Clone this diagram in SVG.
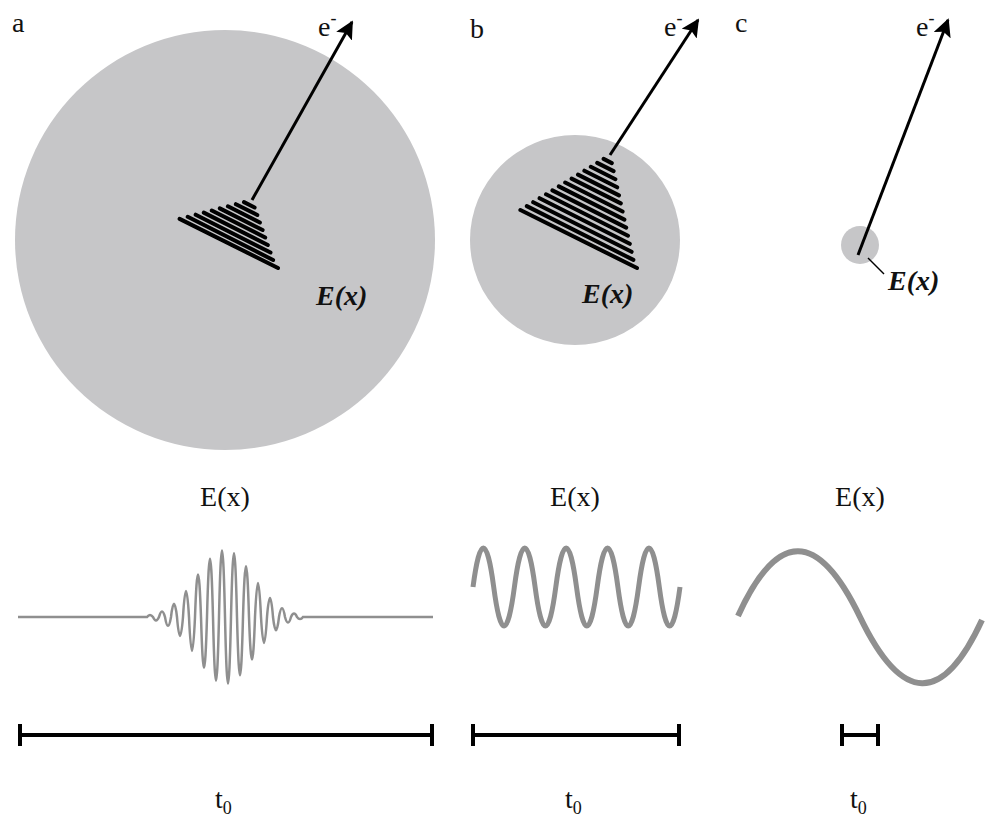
<svg xmlns="http://www.w3.org/2000/svg" width="1004" height="831" viewBox="0 0 1004 831">
<style>
.lbl{font-family:"Liberation Serif",serif;font-size:28px;fill:#111}
.ex{font-family:"Liberation Serif",serif;font-size:28px;font-weight:bold;font-style:italic;fill:#111}
.circ{fill:#c6c6c8}
.zz{fill:none;stroke:#000;stroke-width:4;stroke-linecap:round}
.arr{stroke:#000;stroke-width:3;fill:none}
.wave{fill:none;stroke:#8f8f8f}
.bar{stroke:#000;stroke-width:4;fill:none}
</style>
<defs>
<marker id="ah" viewBox="0 0 10 10" refX="9" refY="5" markerWidth="6" markerHeight="6" orient="auto" markerUnits="strokeWidth">
<path d="M0,0 L10,5 L0,10 L2,5 z" fill="#000"/>
</marker>
</defs>
<rect width="1004" height="831" fill="#fff"/>
<g id="panel-a">
<circle class="circ" cx="225" cy="240" r="210"/>
<text class="lbl" x="12" y="32">a</text>
<path class="zz" d="M244,202.1 L254.6,207.5 M235.9,204.2 L257.3,215 M227.9,206.3 L259.9,222.5 M219.8,208.4 L262.6,230 M211.8,210.5 L265.2,237.5 M203.8,212.6 L267.8,245 M195.7,214.7 L270.5,252.5 M187.7,216.8 L273.1,260 M179.6,218.9 L278,268"/>
<text class="ex" x="316" y="305">E(x)</text>
<text class="lbl" x="318" y="36">e<tspan font-size="18" dy="-12">-</tspan></text>
</g>
<g id="panel-b">
<circle class="circ" cx="575" cy="240" r="105"/>
<text class="lbl" x="470" y="38">b</text>
<path class="zz" d="M603.6,158.9 L611.8,163.1 M597.2,162.9 L613.6,171.1 M590.8,166.8 L615.4,179.2 M584.4,170.7 L617.2,187.3 M578,174.6 L619,195.4 M571.6,178.6 L620.8,203.4 M565.2,182.5 L622.6,211.5 M558.8,186.4 L624.4,219.6 M552.4,190.4 L626.2,227.6 M546,194.3 L628,235.7 M539.6,198.2 L629.8,243.8 M533.2,202.2 L631.6,251.8 M526.8,206.1 L633.4,259.9 M520.4,210 L637,268"/>
<text class="ex" x="582" y="303">E(x)</text>
<text class="lbl" x="664" y="36">e<tspan font-size="18" dy="-12">-</tspan></text>
</g>
<g id="panel-c">
<circle class="circ" cx="860" cy="245" r="19"/>
<text class="lbl" x="735" y="32">c</text>
<line x1="868" y1="258" x2="884" y2="274" stroke="#000" stroke-width="1.5"/>
<text class="ex" x="888" y="290">E(x)</text>
<text class="lbl" x="916" y="36">e<tspan font-size="18" dy="-12">-</tspan></text>
</g>
<g id="connectors">
<line class="arr" x1="252" y1="200" x2="352" y2="22" marker-end="url(#ah)"/>
<line class="arr" x1="610" y1="155" x2="698" y2="20" marker-end="url(#ah)"/>
<line class="arr" x1="858" y1="255" x2="948" y2="20" marker-end="url(#ah)"/>
</g>
<g id="waves">
<text class="lbl" x="225" y="506" text-anchor="middle">E(x)</text>
<text class="lbl" x="575" y="506" text-anchor="middle">E(x)</text>
<text class="lbl" x="860" y="506" text-anchor="middle">E(x)</text>
<path class="wave" stroke-width="2.5" d="M18 617 L147 617 Q150 613 153 617 Q156 623.8 159 617 Q162 605.8 165 617 Q168 634.6 171 617 Q174 590.6 177 617 Q180 654.8 183 617 Q186 565.2 189 617 Q192 684.8 195 617 Q198 532 201 617 Q204 718.6 207 617 Q210 500.6 213 617 Q216 744.4 219 617 Q222 483.8 225 617 Q228 750.2 231 617 Q234 489.6 237 617 Q240 733.4 243 617 Q246 515.4 249 617 Q252 702 255 617 Q258 549.2 261 617 Q264 668.8 267 617 Q270 579.2 273 617 Q276 643.4 279 617 Q282 599.4 285 617 Q288 628.2 291 617 Q294 610.2 297 617 Q300 621 303 617 L433 617"/>
<path class="wave" stroke-width="5" d="M473 587 Q483.35 509 493.7 587 T514.4 587 T535.1 587 T555.8 587 T576.5 587 T597.2 587 T617.9 587 T638.6 587 T659.3 587 T680 587"/>
<path class="wave" stroke-width="6" d="M738 616 Q797 486 860 617 T982 620"/>
</g>
<g id="scales">
<path class="bar" d="M20 735 L432 735 M20 724 L20 746 M432 724 L432 746"/>
<path class="bar" d="M473 735 L679 735 M473 724 L473 746 M679 724 L679 746"/>
<path class="bar" d="M842 735 L878 735 M842 724 L842 746 M878 724 L878 746"/>
<text class="lbl" x="215" y="808">t<tspan font-size="18" dy="6">0</tspan></text>
<text class="lbl" x="565" y="808">t<tspan font-size="18" dy="6">0</tspan></text>
<text class="lbl" x="850" y="808">t<tspan font-size="18" dy="6">0</tspan></text>
</g>
</svg>
